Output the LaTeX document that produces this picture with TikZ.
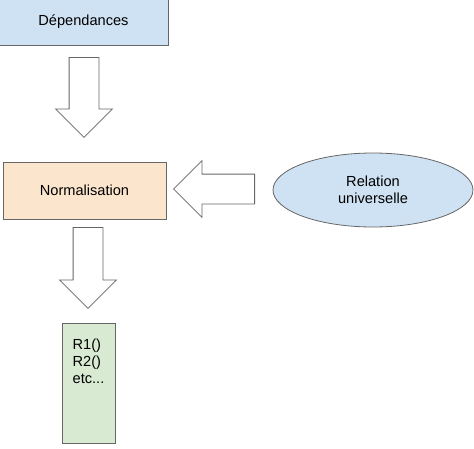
\documentclass[tikz,border=0pt]{standalone}
\usepackage{fontspec}
\setmainfont{Liberation Sans}
\usetikzlibrary{shapes.geometric,shapes.arrows}
\definecolor{bleu}{HTML}{CFE2F3}
\definecolor{peche}{HTML}{FCE5CD}
\definecolor{vert}{HTML}{D9EAD3}
\definecolor{trait}{HTML}{666666}
\begin{document}
\begin{tikzpicture}[x=1pt, y=-1pt,
  boite/.style={rectangle, draw=trait, line width=0.8pt, inner sep=0pt, font=\fontsize{14.6}{17}\selectfont},
  fleche/.style={single arrow, draw=trait, fill=white, line width=0.8pt, inner sep=14.5pt, single arrow head extend=13.5pt, minimum height=80pt, anchor=tail}]
\useasboundingbox (0,0) rectangle (474,448);
\node[boite, fill=bleu, minimum width=169pt, minimum height=46pt] (dep) at (83.5,22){Dépendances};
\node[boite, fill=peche, minimum width=163pt, minimum height=57pt] (norm) at (84.5,190.5){Normalisation};
\node[boite, fill=vert, minimum width=53pt, minimum height=120pt, align=left, text depth=43pt] (res) at (88.5,383){R1()\\R2()\\etc...};
\node[boite, ellipse, fill=bleu, minimum width=200pt, minimum height=74pt, align=center] (rel) at (373,190){Relation\\universelle};
\node[fleche, rotate=-90] (f1) at (84,57){};
\node[fleche, rotate=180, minimum height=81pt] (f2) at (255,189){};
\node[fleche, rotate=-90, minimum height=81pt] (f3) at (88,227){};
\end{tikzpicture}
\end{document}
